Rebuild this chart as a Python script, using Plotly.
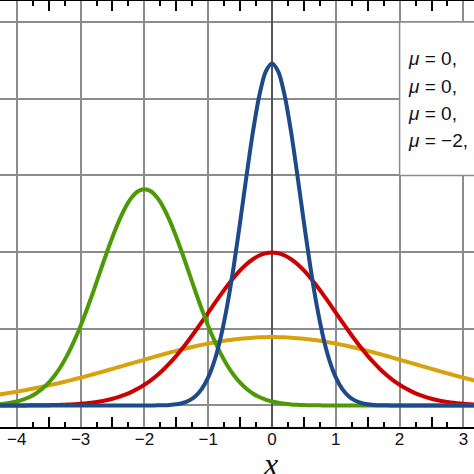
import plotly.graph_objects as go

# sample positions along x
x_vals = [-4.3, -4.2, -4.1, -4.0, -3.9, -3.8, -3.7, -3.6, -3.5, -3.4, -3.3, -3.2,
          -3.1, -3.0, -2.9, -2.8, -2.7, -2.6, -2.5, -2.4, -2.3, -2.2, -2.1, -2.0,
          -1.9, -1.8, -1.7, -1.6, -1.5, -1.4, -1.3, -1.2, -1.1, -1.0, -0.9, -0.8,
          -0.7, -0.6, -0.5, -0.4, -0.3, -0.2, -0.1, 0.0, 0.1, 0.2, 0.3, 0.4,
          0.5, 0.6, 0.7, 0.8, 0.9, 1.0, 1.1, 1.2, 1.3, 1.4, 1.5, 1.6,
          1.7, 1.8, 1.9, 2.0, 2.1, 2.2, 2.3, 2.4, 2.5, 2.6, 2.7, 2.8,
          2.9, 3.0, 3.1, 3.2]

# mu=0, sigma^2=0.2
blue_y = [0, 0, 0, 0, 0, 0, 0, 0, 0, 0, 0, 0,
          0, 0, 0, 0, 0, 0, 0, 0, 0, 0, 0, 0,
          0.0001, 0.0003, 0.0007, 0.0015, 0.0032, 0.0066, 0.0130, 0.0244, 0.0433, 0.0732, 0.1177, 0.1801,
          0.2621, 0.3627, 0.4775, 0.5980, 0.7124, 0.8072, 0.8701, 0.8921, 0.8701, 0.8072, 0.7124, 0.5980,
          0.4775, 0.3627, 0.2621, 0.1801, 0.1177, 0.0732, 0.0433, 0.0244, 0.0130, 0.0066, 0.0032, 0.0015,
          0.0007, 0.0003, 0.0001, 0, 0, 0, 0, 0, 0, 0, 0, 0,
          0, 0, 0, 0]

# mu=0, sigma^2=1
red_y = [0.0000, 0.0001, 0.0001, 0.0001, 0.0002, 0.0003, 0.0004, 0.0006, 0.0009, 0.0012, 0.0017, 0.0024,
         0.0033, 0.0044, 0.0060, 0.0079, 0.0104, 0.0136, 0.0175, 0.0224, 0.0283, 0.0355, 0.0440, 0.0540,
         0.0656, 0.0790, 0.0940, 0.1109, 0.1295, 0.1497, 0.1714, 0.1942, 0.2179, 0.2420, 0.2661, 0.2897,
         0.3123, 0.3332, 0.3521, 0.3683, 0.3814, 0.3910, 0.3970, 0.3989, 0.3970, 0.3910, 0.3814, 0.3683,
         0.3521, 0.3332, 0.3123, 0.2897, 0.2661, 0.2420, 0.2179, 0.1942, 0.1714, 0.1497, 0.1295, 0.1109,
         0.0940, 0.0790, 0.0656, 0.0540, 0.0440, 0.0355, 0.0283, 0.0224, 0.0175, 0.0136, 0.0104, 0.0079,
         0.0060, 0.0044, 0.0033, 0.0024]

# mu=0, sigma^2=5
gold_y = [0.0281, 0.0306, 0.0332, 0.0360, 0.0390, 0.0421, 0.0454, 0.0488, 0.0524, 0.0562, 0.0601, 0.0641,
          0.0683, 0.0725, 0.0770, 0.0815, 0.0861, 0.0907, 0.0955, 0.1003, 0.1051, 0.1099, 0.1147, 0.1196,
          0.1243, 0.1290, 0.1336, 0.1381, 0.1425, 0.1467, 0.1507, 0.1545, 0.1581, 0.1614, 0.1645, 0.1673,
          0.1699, 0.1721, 0.1740, 0.1756, 0.1768, 0.1777, 0.1782, 0.1784, 0.1782, 0.1777, 0.1768, 0.1756,
          0.1740, 0.1721, 0.1699, 0.1673, 0.1645, 0.1614, 0.1581, 0.1545, 0.1507, 0.1467, 0.1425, 0.1381,
          0.1336, 0.1290, 0.1243, 0.1196, 0.1147, 0.1099, 0.1051, 0.1003, 0.0955, 0.0907, 0.0861, 0.0815,
          0.0770, 0.0725, 0.0683, 0.0641]

# mu=-2, sigma^2=0.5
green_y = [0.0028, 0.0045, 0.0069, 0.0103, 0.0153, 0.0221, 0.0314, 0.0436, 0.0595, 0.0795, 0.1043, 0.1340,
           0.1684, 0.2076, 0.2509, 0.2973, 0.3458, 0.3938, 0.4394, 0.4808, 0.5157, 0.5421, 0.5586, 0.5642,
           0.5586, 0.5421, 0.5157, 0.4808, 0.4394, 0.3938, 0.3458, 0.2973, 0.2509, 0.2076, 0.1684, 0.1340,
           0.1043, 0.0795, 0.0595, 0.0436, 0.0314, 0.0221, 0.0153, 0.0103, 0.0069, 0.0045, 0.0028, 0.0018,
           0.0011, 0.0007, 0.0004, 0.0002, 0.0001, 0.0001, 0, 0, 0, 0, 0, 0,
           0, 0, 0, 0, 0, 0, 0, 0, 0, 0, 0, 0,
           0, 0, 0, 0]

# legend text runs off the right edge, as in the cropped reference
legend_lines = ['<i>μ</i> = 0,&nbsp;&nbsp;&nbsp;&nbsp;&nbsp; <i>σ</i><sup>2</sup> = 0.2,',
                '<i>μ</i> = 0,&nbsp;&nbsp;&nbsp;&nbsp;&nbsp; <i>σ</i><sup>2</sup> = 1.0,',
                '<i>μ</i> = 0,&nbsp;&nbsp;&nbsp;&nbsp;&nbsp; <i>σ</i><sup>2</sup> = 5.0,',
                '<i>μ</i> = −2,&nbsp;&nbsp;&nbsp; <i>σ</i><sup>2</sup> = 0.5,']
legend_y = [0.908, 0.836, 0.765, 0.694]

x_labels = [-4, -3, -2, -1, 0, 1, 2, 3]
half_ticks = [-4.5, -3.5, -2.5, -1.5, -0.5, 0.5, 1.5, 2.5, 3.5]
quarter_ticks = [-4.25, -3.75, -3.25, -2.75, -2.25, -1.75, -1.25, -0.75, -0.25,
                 0.25, 0.75, 1.25, 1.75, 2.25, 2.75, 3.25]

x_range = [-4.263, 3.166]
y_range = [-0.0561, 1.0548]

fig = go.Figure()

curves = [(gold_y, '#d8a20f'), (red_y, '#cc0000'), (green_y, '#4e9a06'), (blue_y, '#1f4a8a')]
for ys, col in curves:
    fig.add_trace(go.Scatter(x=x_vals, y=ys, mode='lines',
                             line=dict(color=col, width=4, shape='spline', smoothing=0.8),
                             showlegend=False, hoverinfo='skip'))

# dummy trace so the tick-mark axis gets drawn
fig.add_trace(go.Scatter(x=[0], y=[0], xaxis='x2', mode='markers',
                         marker=dict(opacity=0), showlegend=False, hoverinfo='skip'))

# legend box
fig.add_shape(type='rect', x0=2, x1=3.6, y0=0.6, y1=1.0, xref='x', yref='y',
              fillcolor='white', line=dict(color='#8c8c8c', width=1.5), layer='above')

for txt, yy in zip(legend_lines, legend_y):
    fig.add_annotation(x=2.10, y=yy, xref='x', yref='y',
                       text=txt, showarrow=False, xanchor='left', yanchor='middle',
                       font=dict(family='Liberation Sans', size=19, color='#111'))

fig.add_annotation(x=-0.03, y=-0.087, xref='x', yref='paper', text='<i>x</i>',
                   showarrow=False, xanchor='center', yanchor='middle',
                   font=dict(family='Liberation Serif', size=32, color='#111'))

fig.update_layout(
    width=474, height=474,
    margin=dict(l=0, r=0, t=1, b=47, pad=0),
    plot_bgcolor='white', paper_bgcolor='white',
    xaxis=dict(range=x_range, tickmode='array', tickvals=x_labels,
               ticktext=[str(v).replace('-', '−') for v in x_labels],
               ticks='', ticklen=0, ticklabelstandoff=-4, automargin=False,
               showgrid=True, gridcolor='#8c8c8c', gridwidth=1.5,
               zeroline=True, zerolinecolor='#555555', zerolinewidth=1.8,
               showline=True, linecolor='black', linewidth=2,
               tickfont=dict(family='Liberation Sans', size=17, color='#111')),
    xaxis2=dict(range=x_range, overlaying='x', side='bottom', anchor='y',
                tickmode='array', tickvals=half_ticks, ticks='inside', ticklen=10,
                tickwidth=1.5, tickcolor='black', showticklabels=False, automargin=False,
                showgrid=False, zeroline=False, showline=True, linecolor='black',
                linewidth=2, mirror='ticks',
                minor=dict(tickmode='array', tickvals=quarter_ticks, ticks='inside',
                           ticklen=5, tickwidth=1.5, tickcolor='black', showgrid=False)),
    yaxis=dict(range=y_range, tickmode='linear', tick0=0, dtick=0.2, automargin=False,
               showticklabels=False, ticks='', showgrid=True, gridcolor='#8c8c8c',
               gridwidth=1.5, zeroline=False),
)

# drop the default page margin so the chart sits at the window corner
fig.write_html("out.html", config={'displayModeBar': False},
               post_script="document.body.style.margin='0';")
